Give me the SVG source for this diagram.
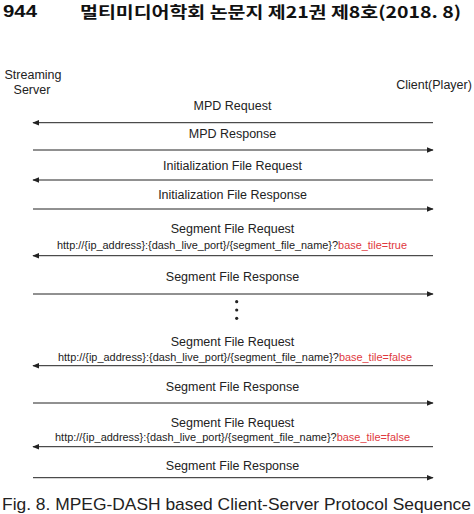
<svg xmlns="http://www.w3.org/2000/svg" width="474" height="514" viewBox="0 0 474 514">
<style>
.lbl{font-family:"Liberation Sans","Noto Sans",sans-serif;font-size:12.5px;fill:#222;text-anchor:middle}
.url{font-family:"Liberation Sans","Noto Sans",sans-serif;font-size:10px;fill:#222}
.red{fill:#e0393e}
.ln{stroke:#222;stroke-width:1;fill:none}
.hdr{font-family:"Noto Sans CJK KR","Liberation Sans",sans-serif;font-weight:bold;font-size:16px;fill:#111}
</style>
<defs>
<marker id="ah" viewBox="0 0 10 10" refX="9" refY="5" markerWidth="7" markerHeight="7" markerUnits="userSpaceOnUse" orient="auto">
<path d="M0,1 L10,5 L0,9 z" fill="#222"/>
</marker>
</defs>
<rect width="474" height="514" fill="#fff"/>
<g id="header">
<text x="3" y="17" font-family="Liberation Sans,sans-serif" font-weight="bold" font-size="17" fill="#111" textLength="34" lengthAdjust="spacingAndGlyphs">944</text>
<text class="hdr" x="80" y="17.5" textLength="381" lengthAdjust="spacingAndGlyphs">멀티미디어학회 논문지 제21권 제8호(2018. 8)</text>
</g>
<g id="server">
<text class="lbl" x="33" y="79" font-size="12">Streaming</text>
<text class="lbl" x="32" y="94" font-size="12">Server</text>
</g>
<g id="client">
<text class="lbl" x="434" y="89" font-size="12">Client(Player)</text>
</g>
<g id="connectors">
<line class="ln" x1="433" y1="122.7" x2="33" y2="122.7" marker-end="url(#ah)"/>
<line class="ln" x1="33" y1="150" x2="433" y2="150" marker-end="url(#ah)"/>
<line class="ln" x1="433" y1="180" x2="33" y2="180" marker-end="url(#ah)"/>
<line class="ln" x1="33" y1="209" x2="433" y2="209" marker-end="url(#ah)"/>
<line class="ln" x1="433" y1="255.7" x2="33" y2="255.7" marker-end="url(#ah)"/>
<line class="ln" x1="33" y1="294" x2="433" y2="294" marker-end="url(#ah)"/>
<line class="ln" x1="433" y1="365.7" x2="33" y2="365.7" marker-end="url(#ah)"/>
<line class="ln" x1="33" y1="403" x2="433" y2="403" marker-end="url(#ah)"/>
<line class="ln" x1="433" y1="446.7" x2="33" y2="446.7" marker-end="url(#ah)"/>
<line class="ln" x1="33" y1="477.7" x2="433" y2="477.7" marker-end="url(#ah)"/>
</g>
<g id="labels">
<text class="lbl" x="232.5" y="109.5">MPD Request</text>
<text class="lbl" x="232.5" y="138">MPD Response</text>
<text class="lbl" x="232.5" y="170">Initialization File Request</text>
<text class="lbl" x="232.5" y="198.5">Initialization File Response</text>
<text class="lbl" x="232.5" y="233">Segment File Request</text>
<text class="url" x="57" y="248.5" textLength="350" lengthAdjust="spacingAndGlyphs">http://{ip_address}:{dash_live_port}/{segment_file_name}?<tspan class="red">base_tile=true</tspan></text>
<text class="lbl" x="232.5" y="280.5">Segment File Response</text>
<circle cx="236.7" cy="301.7" r="1.6" fill="#222"/>
<circle cx="236.7" cy="310" r="1.6" fill="#222"/>
<circle cx="236.7" cy="318.3" r="1.6" fill="#222"/>
<text class="lbl" x="232.5" y="345.5">Segment File Request</text>
<text class="url" x="58" y="360.5" textLength="354" lengthAdjust="spacingAndGlyphs">http://{ip_address}:{dash_live_port}/{segment_file_name}?<tspan class="red">base_tile=false</tspan></text>
<text class="lbl" x="232.5" y="391">Segment File Response</text>
<text class="lbl" x="232.5" y="426.5">Segment File Request</text>
<text class="url" x="55" y="440.5" textLength="355" lengthAdjust="spacingAndGlyphs">http://{ip_address}:{dash_live_port}/{segment_file_name}?<tspan class="red">base_tile=false</tspan></text>
<text class="lbl" x="232.5" y="469.5">Segment File Response</text>
</g>
<g id="caption">
<text x="2" y="509.5" font-family="Liberation Sans,sans-serif" font-size="17" fill="#222" textLength="469" lengthAdjust="spacingAndGlyphs">Fig. 8. MPEG-DASH based Client-Server Protocol Sequence</text>
</g>
</svg>
